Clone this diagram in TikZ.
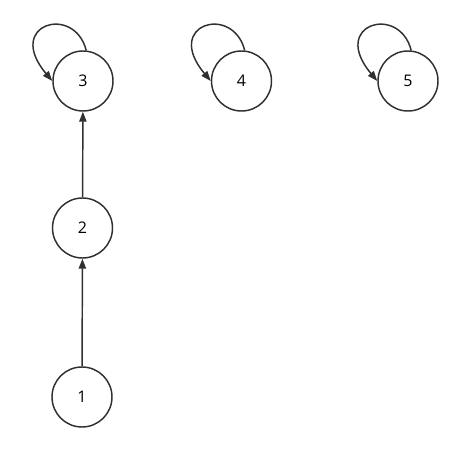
\documentclass[tikz,border=0pt]{standalone}
\usepackage{fontspec}
\setmainfont{Open Sans}
\usetikzlibrary{arrows.meta}
\definecolor{gline}{HTML}{303030}
\tikzset{
  vtx/.style={circle, draw=gline, line width=1.1pt, minimum size=45pt, inner sep=0pt, font=\fontsize{12}{14}\selectfont},
  arr/.style={-{Triangle[length=7.5pt,width=5.5pt]}, line width=1.1pt, color=gline},
}
\begin{document}
\begin{tikzpicture}[x=0.75pt,y=0.75pt]
  \useasboundingbox (0,0) rectangle (465,458);
  \node[vtx] (n1) at (82,61) {1};
  \node[vtx] (n2) at (82.5,230) {2};
  \node[vtx] (n3) at (83,377) {3};
  \node[vtx] (n4) at (241.5,377) {4};
  \node[vtx] (n5) at (408,377) {5};
  \draw[arr] (n1) -- (n2);
  \draw[arr] (n2) -- (n3);
  % self loops
  \foreach \v in {n3,n4,n5}
    \draw[arr] (\v.84) to[out=104,in=130,out distance=36pt,in distance=56pt] (\v.west);
\end{tikzpicture}
\end{document}
